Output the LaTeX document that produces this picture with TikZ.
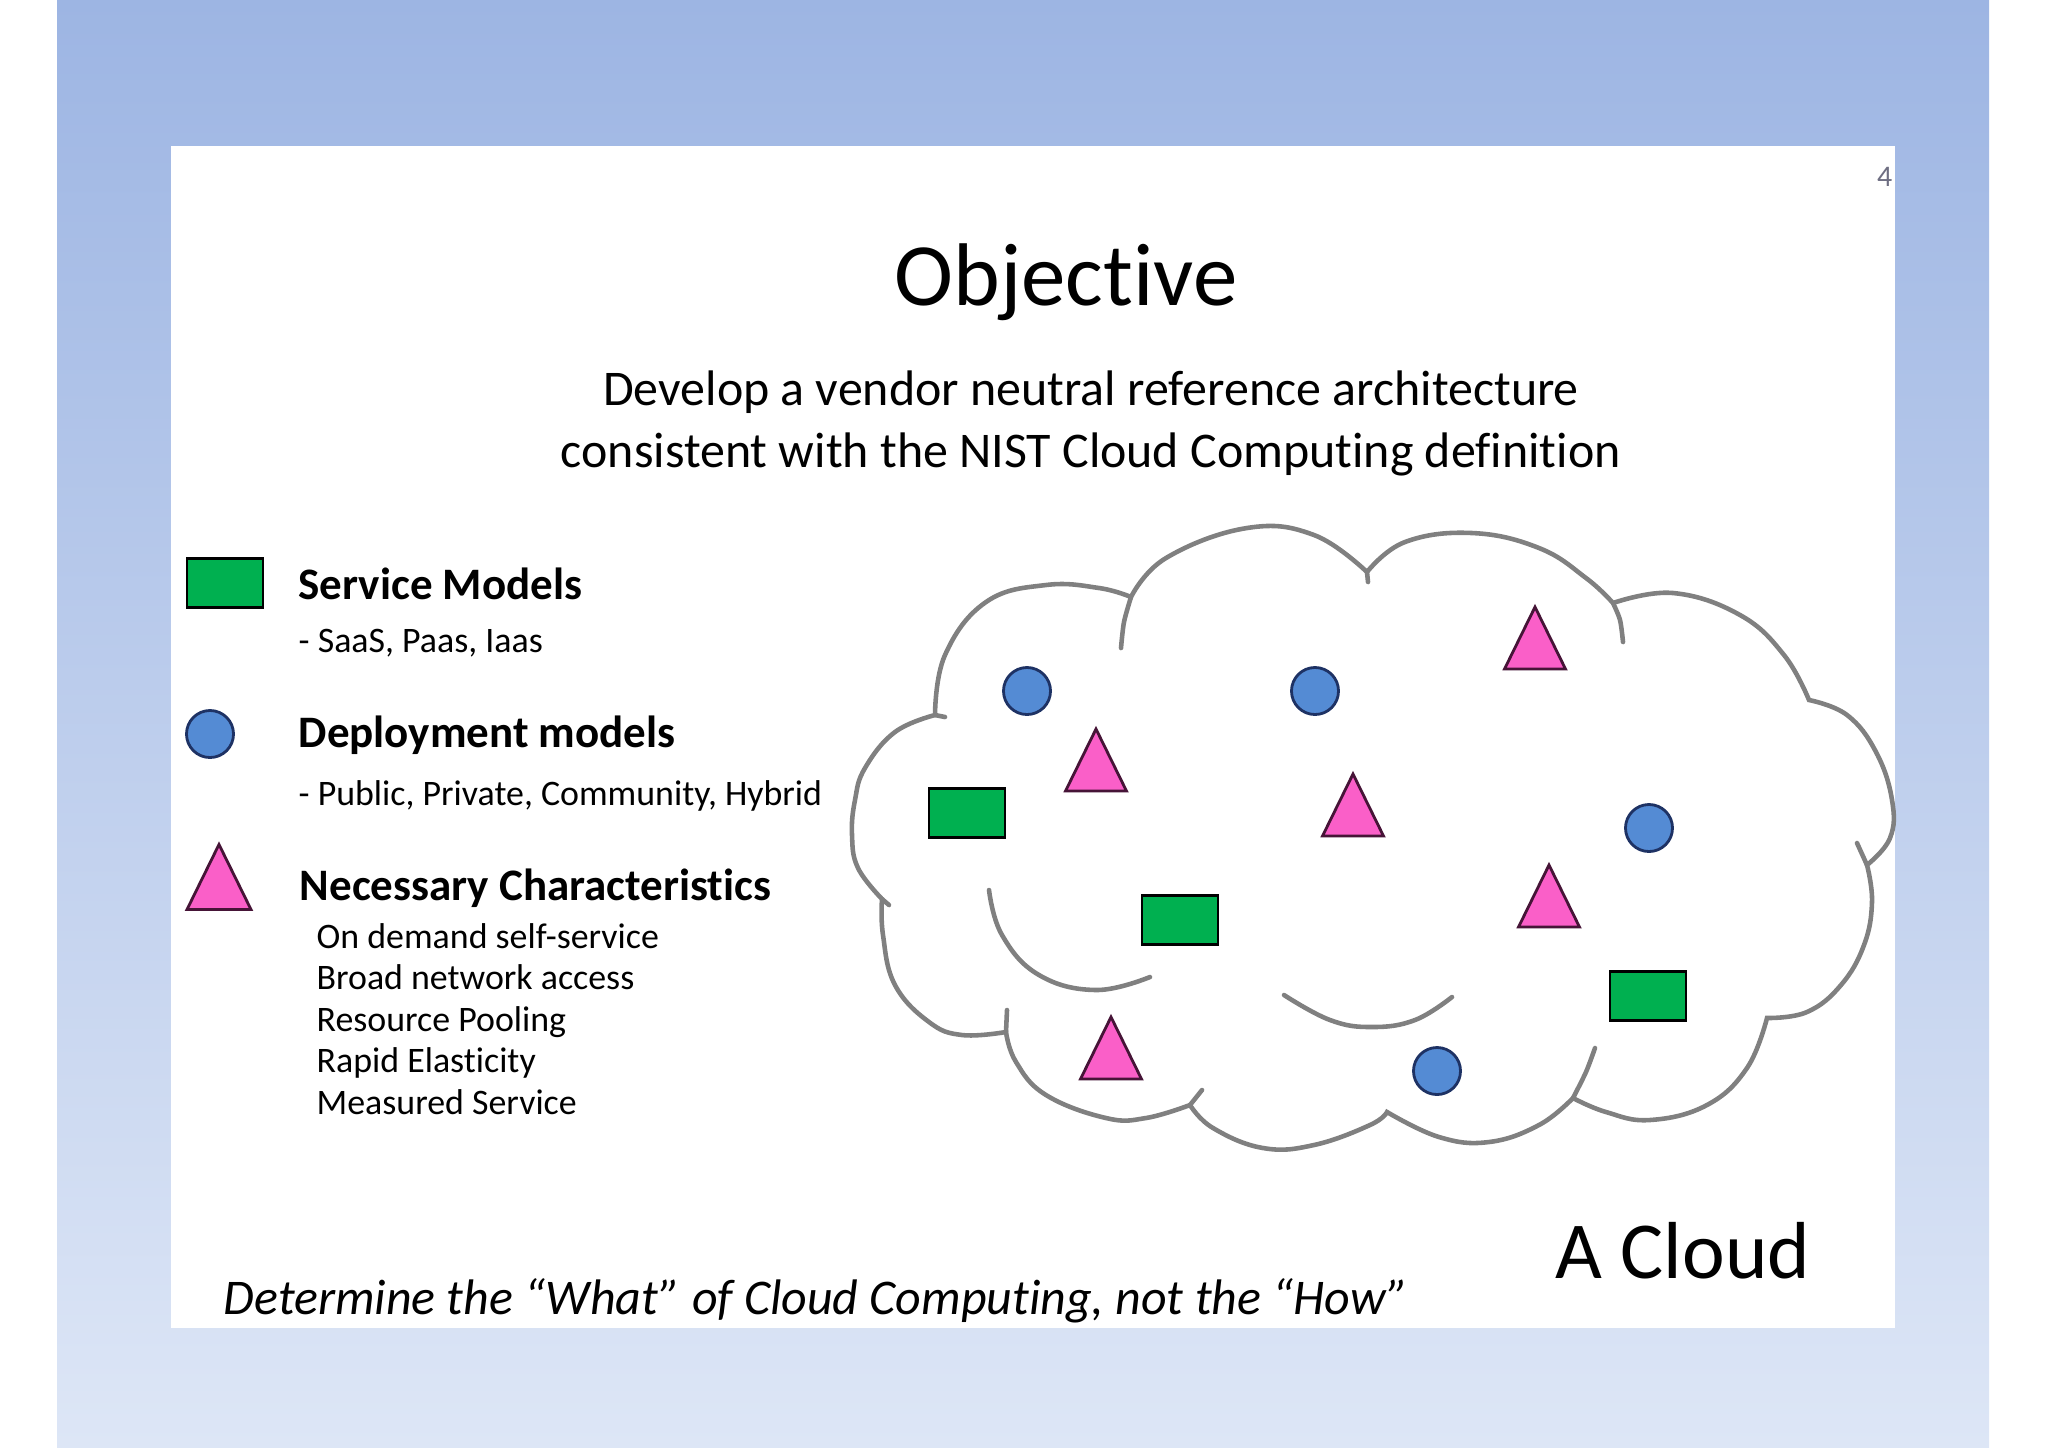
\documentclass[tikz,border=0pt]{standalone}
\usepackage{fontspec}
\setmainfont{Carlito}[Ligatures=NoCommon]
\usepackage{xcolor}
\usepackage{tikz}

\definecolor{bgtop}{RGB}{157,181,227}
\definecolor{bgbot}{RGB}{221,230,246}
\definecolor{svcgreen}{RGB}{0,176,80}
\definecolor{depblue}{RGB}{84,139,212}
\definecolor{depline}{RGB}{30,50,100}
\definecolor{ncpink}{RGB}{250,95,200}
\definecolor{ncline}{RGB}{70,20,55}
\definecolor{cloudgray}{RGB}{128,128,128}
\definecolor{pggray}{RGB}{110,110,130}

\begin{document}
\begin{tikzpicture}[x=0.01cm,y=-0.01cm,
  svc/.style={rectangle,draw=black,fill=svcgreen,line width=0.8pt,minimum width=0.76cm,minimum height=0.49cm,inner sep=0pt},
  dep/.style={circle,draw=depline,fill=depblue,line width=0.8pt,minimum size=0.47cm,inner sep=0pt},
  nc/.pic={\draw[draw=ncline,fill=ncpink,line width=0.8pt] (-30.5,31) -- (0,-31) -- (30.5,31) -- cycle;},
  puff/.style={draw=cloudgray,line width=1.3pt,line cap=round},
  title/.style={font=\fontsize{25.3}{30}\selectfont,inner sep=0pt,anchor=base},
  sub/.style={font=\fontsize{14.2}{17}\selectfont,inner sep=0pt,anchor=base},
  head/.style={font=\bfseries\fontsize{12.8}{15}\selectfont,inner sep=0pt,anchor=base west},
  item/.style={font=\fontsize{10.2}{12}\selectfont,inner sep=0pt,anchor=base west}]
\useasboundingbox (0,0) rectangle (2048,1447);
% background and slide
\shade[top color=bgtop,bottom color=bgbot] (57,0) rectangle (1989,1447);
\fill[white] (171,146) rectangle (1895,1328);
\node[font=\fontsize{8.5}{10}\selectfont,text=pggray,inner sep=0pt,anchor=base east] (pg) at (1893,186) {4};

% heading
\node[title] (title) at (1066,305) {Objective};
\node[sub] (sub1) at (1091,405) {Develop a vendor neutral reference architecture};
\node[sub] (sub2) at (1091,467) {consistent with the NIST Cloud Computing definition};

% legend
\node[svc] (lsvc) at (225,583) {};
\node[head] (svch) at (298,599) {Service Models};
\node[item] (svct) at (298,652) {- SaaS, Paas, Iaas};
\node[dep] (ldep) at (210,734) {};
\node[head] (deph) at (298,747) {Deployment models};
\node[item] (dept) at (298,805) {- Public, Private, Community, Hybrid};
\pic[scale=1.05] at (219,877) {nc};
\node[head] (nch) at (299,900) {Necessary Characteristics};
\foreach \txt [count=\i from 0] in {On demand self-service,Broad network access,Resource Pooling,Rapid Elasticity,Measured Service}
  \node[item] (nc\i) at (316,948+41.6*\i) {\txt};

% the cloud
\coordinate (j1) at (882,899);
\coordinate (j2) at (935,715);
\coordinate (j3) at (1131,597);
\coordinate (j4) at (1367,572);
\coordinate (j5) at (1613,603);
\coordinate (j6) at (1809,700);
\coordinate (j7) at (1867,865);
\coordinate (j8) at (1767,1018);
\coordinate (j9) at (1573,1098);
\coordinate (j10) at (1387,1112);
\coordinate (j11) at (1190,1105);
\coordinate (j12) at (1006,1032);
\filldraw[puff,fill=white,smooth,tension=0.7] plot coordinates {(j1) (858,868) (852,835) (855,800) (865,768) (895,732) (j2)}
  -- plot coordinates {(j2) (945,655) (986,602) (1046,585) (1099,588) (j3)}
  -- plot coordinates {(j3) (1166,558) (1247,528) (1314,535) (j4)}
  -- plot coordinates {(j4) (1405,542) (1472,533) (1539,548) (1586,578) (j5)}
  -- plot coordinates {(j5) (1673,593) (1740,615) (1784,655) (j6)}
  -- plot coordinates {(j6) (1847,715) (1876,752) (1892,800) (1890,838) (j7)}
  -- plot coordinates {(j7) (1872,902) (1864,945) (1841,985) (1807,1012) (j8)}
  -- plot coordinates {(j8) (1747,1068) (1707,1105) (1650,1120) (1606,1112) (j9)}
  -- plot coordinates {(j9) (1539,1125) (1489,1142) (1439,1137) (j10)}
  -- plot coordinates {(j10) (1370,1125) (1314,1145) (1263,1148) (1213,1128) (j11)}
  -- plot coordinates {(j11) (1146,1118) (1106,1118) (1046,1095) (1016,1062) (j12)}
  -- plot coordinates {(j12) (962,1035) (929,1022) (895,985) (883,935) (j1)}
  -- cycle;
% small ticks where the puffs meet
\draw[puff] plot[smooth] coordinates {(j3) (1124,622) (1121,648)};
\draw[puff] (j4) -- (1368,582);
\draw[puff] plot[smooth] coordinates {(j5) (1620,620) (1623,642)};
\draw[puff] (j7) -- (1857,843);
\draw[puff] plot[smooth] coordinates {(j9) (1586,1072) (1595,1048)};
\draw[puff] (j11) -- (1202,1090);
\draw[puff] (j12) -- (1007,1010);
\draw[puff] (j1) -- (889,905);
\draw[puff] (j2) -- (945,717);
% inner arcs
\draw[puff,smooth,tension=0.7] plot coordinates {(989,890) (1002,935) (1039,975) (1096,990) (1150,977)};
\draw[puff,smooth,tension=0.7] plot coordinates {(1284,995) (1330,1020) (1372,1027) (1415,1020) (1452,997)};

% symbols in the cloud
\node[svc] (s1) at (967,813) {};
\node[svc] (s2) at (1180,920) {};
\node[svc] (s3) at (1648,996) {};
\node[dep] (d1) at (1027,691) {};
\node[dep] (d2) at (1315,691) {};
\node[dep] (d3) at (1649,828) {};
\node[dep] (d4) at (1437,1071) {};
\pic at (1096,760) {nc};
\pic at (1353,805) {nc};
\pic at (1535,638) {nc};
\pic at (1549,896) {nc};
\pic at (1111,1048) {nc};

% footer
\node[sub,anchor=base west,font=\itshape\fontsize{14.2}{17}\selectfont] (what) at (223,1314) {Determine the “What” of Cloud Computing, not the “How”};
\node[font=\fontsize{23}{28}\selectfont,inner sep=0pt,anchor=base west] (acloud) at (1555,1278) {A Cloud};
\end{tikzpicture}
\end{document}
